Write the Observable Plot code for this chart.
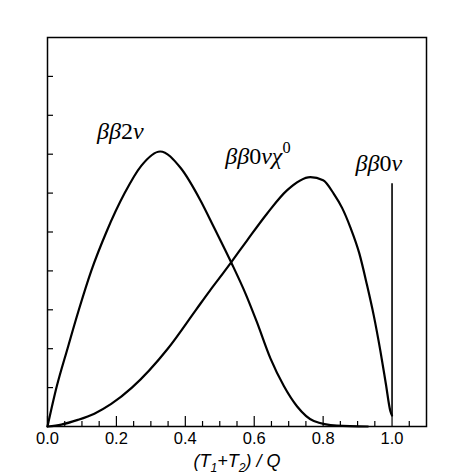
<!DOCTYPE html>
<html>
<head>
<meta charset="utf-8">
<script src="https://cdn.jsdelivr.net/npm/d3@7"></script>
<script src="https://cdn.jsdelivr.net/npm/@observablehq/plot@0.6"></script>
<style>
  html, body { margin: 0; padding: 0; background: white; }
  svg { display: block; }
  svg text.sans { font-family: "Liberation Sans", "Arimo", sans-serif !important; }
  svg text.serif { font-family: "Liberation Serif", "Tinos", serif !important; }
</style>
</head>
<body>
<div id="chart"></div>
<script>
// ββ2ν spectrum
const x2nu = [0, 0.026, 0.058, 0.091, 0.127, 0.171, 0.224, 0.272, 0.327, 0.386, 0.444, 0.483, 0.533, 0.575, 0.607, 0.647, 0.686, 0.724, 0.773, 0.84, 0.93];
const y2nu = [0, 1.0, 2.0, 3.0, 4.0, 5.0, 6.0, 6.7, 7.07, 6.65, 5.81, 5.12, 4.22, 3.41, 2.70, 1.75, 1.04, 0.52, 0.14, 0.02, 0];
// ββ0νχ0 spectrum
const xMajoron = [0, 0.04, 0.088, 0.136, 0.185, 0.245, 0.349, 0.431, 0.472, 0.513, 0.533, 0.579, 0.637, 0.695, 0.763, 0.80, 0.831, 0.855, 0.879, 0.905, 0.927, 0.947, 0.966, 0.982, 0.995, 1.0];
const yMajoron = [0, 0.05, 0.17, 0.33, 0.58, 1.0, 2.0, 3.0, 3.5, 3.98, 4.22, 4.78, 5.47, 6.07, 6.41, 6.33, 5.98, 5.62, 5.12, 4.45, 3.65, 2.85, 1.95, 1.10, 0.40, 0.28];
// ββ0ν line
const x0nu = [1.0];
const y0nuLow = [0.28];
const y0nuHigh = [6.24];
// labels
const labelText = ["ββ2ν", "ββ0νχ^0", "ββ0ν"];
const labelX = [0.144, 0.516, 0.894];
const labelY = [7.40, 6.76, 6.58];
// ticks
const xMajorTicks = [0, 0.2, 0.4, 0.6, 0.8, 1.0];
const xMinorTicks = [0.05, 0.1, 0.15, 0.25, 0.3, 0.35, 0.45, 0.5, 0.55, 0.65, 0.7, 0.75, 0.85, 0.9, 0.95, 1.05];
const yTicks = [1, 2, 3, 4, 5, 6, 7, 8, 9];
const xLabel = ["(T_1+T_2) / Q"];

const W = 474, H = 474, mL = 47, mR = 48, mT = 37, mB = 48;
const plotW = W - mL - mR, plotH = H - mT - mB;

const data2nu = x2nu.map((x, i) => ({x, y: y2nu[i]}));
const dataMaj = xMajoron.map((x, i) => ({x, y: yMajoron[i]}));
const data0nu = x0nu.map((x, i) => ({x, y1: y0nuLow[i], y2: y0nuHigh[i]}));
const labels = labelText.map((t, i) => ({t, x: labelX[i], y: labelY[i]}));

const svg = Plot.plot({
  width: W, height: H,
  marginLeft: mL, marginRight: mR, marginTop: mT, marginBottom: mB,
  style: {background: "white", color: "black"},
  x: {domain: [0, 1.1]},
  y: {domain: [0, 10], axis: null},
  marks: [
    Plot.ruleX(xMinorTicks, {insetTop: plotH - 5, stroke: "black", strokeWidth: 1.2}),
    Plot.ruleX(xMajorTicks, {insetTop: plotH - 10, stroke: "black", strokeWidth: 1.2}),
    Plot.ruleY(yTicks, {insetRight: plotW - 6, stroke: "black", strokeWidth: 1.2}),
    Plot.axisX({ticks: xMajorTicks, tickSize: 0, tickPadding: 6, tickFormat: d3.format(".1f"), fontSize: 16.5, label: null}),
    Plot.line(data2nu, {x: "x", y: "y", curve: "monotone-x", stroke: "black", strokeWidth: 2.2}),
    Plot.line(dataMaj, {x: "x", y: "y", curve: "monotone-x", stroke: "black", strokeWidth: 2.2}),
    Plot.ruleX(data0nu, {x: "x", y1: "y1", y2: "y2", stroke: "black", strokeWidth: 1.6}),
    Plot.text(labels, {x: "x", y: "y", text: "t", textAnchor: "start", lineAnchor: "bottom", fontSize: 24, fill: "black"}),
    Plot.text(xLabel, {text: d => d, frameAnchor: "bottom", dy: 28, lineAnchor: "top", fontSize: 18, fontStyle: "italic", fill: "black"}),
    Plot.frame({stroke: "black", strokeWidth: 1.5})
  ]
});

document.getElementById("chart").appendChild(svg);

// rich text: italic Greek letters, ^ superscript, _ subscript
d3.select(svg).selectAll("text").each(function() {
  const t = this.textContent;
  const sel = d3.select(this);
  const isGreek = /[α-ω]/.test(t);
  sel.classed(isGreek ? "serif" : "sans", true);
  if (!/[\^_]/.test(t) && !isGreek) return;
  const fs = parseFloat(window.getComputedStyle(this).fontSize) || 16;
  sel.text(null);
  let cur = 0;
  for (let i = 0; i < t.length; i++) {
    let ch = t[i], target = 0, size = null;
    if ((ch === "^" || ch === "_") && i + 1 < t.length) {
      target = ch === "^" ? -0.42 * fs : 0.28 * fs;
      size = 0.68 * fs;
      ch = t[++i];
    }
    const sp = sel.append("tspan").text(ch);
    if (target !== cur) { sp.attr("dy", target - cur); cur = target; }
    if (size) sp.attr("font-size", size);
    if (/[α-ω]/.test(ch)) sp.style("font-style", "italic");
  }
});
</script>
</body>
</html>
